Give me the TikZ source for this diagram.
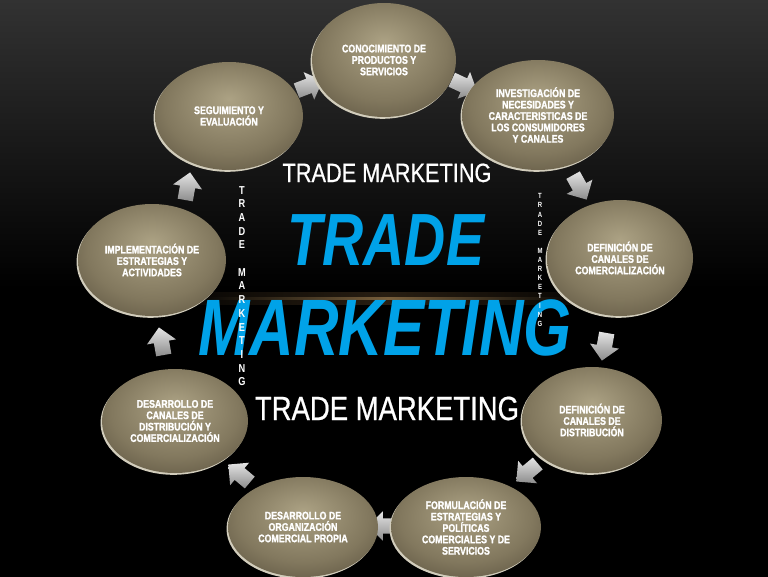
\documentclass[tikz,border=0pt]{standalone}
\usepackage{fontspec}
\setmainfont{Liberation Sans}
\newfontfamily\stagefont{Liberation Sans Bold}[FakeStretch=0.8, FakeBold=1.5]
\newfontfamily\condfont{Liberation Sans Bold}[FakeStretch=0.8]
\newfontfamily\widecond{Liberation Sans}[FakeStretch=0.82, FakeBold=0.6]
\newfontfamily\bigfont{Liberation Sans}[FakeStretch=0.77]
\usetikzlibrary{shapes.geometric,shapes.arrows,shadings}
\definecolor{ovin}{RGB}{172,162,132}
\definecolor{ovmid}{RGB}{130,120,94}
\definecolor{ovout}{RGB}{68,60,45}
\definecolor{tmblue}{RGB}{0,162,232}
\definecolor{rimc}{RGB}{210,205,188}
\definecolor{glowc}{RGB}{120,95,60}
\definecolor{glowd}{RGB}{40,30,18}
\pgfdeclareradialshading{ovalshade}{\pgfpoint{0bp}{8bp}}{color(0bp)=(ovin); color(22bp)=(ovmid); color(44bp)=(ovout); color(50bp)=(ovout)}
\tikzset{
  stage/.style={ellipse, inner sep=0pt, shade, shading=ovalshade,
    preaction={fill=rimc, transform canvas={xshift=-1.5pt, yshift=-1.8pt}},
    text=white, align=center,
    font=\stagefont\fontsize{11}{11.4}\selectfont},
  blockarrow/.style={single arrow, single arrow head extend=7pt,
    minimum height=28pt, inner xsep=0pt, inner ysep=7.5pt, draw=none,
    top color={rgb,255:red,228;green,228;blue,228},
    bottom color={rgb,255:red,140;green,140;blue,140}},
  vtext/.style={text=white, align=center, inner sep=0pt}
}
\begin{document}
\begin{tikzpicture}[x=1pt, y=-1pt]
\useasboundingbox (0,0) rectangle (768,576);
% background
\shade[top color={rgb,255:red,50;green,50;blue,50}, bottom color=black, middle color=black] (0,0) rectangle (768,576);
% glow line behind MARKETING
\shade[left color=black, right color=black, middle color=glowd] (140,292) rectangle (630,304);
\shade[left color=black, right color=black, middle color=glowc] (190,297) rectangle (585,299.5);

% arrows (drawn under the ovals)
\node[blockarrow, rotate=21]   (a1) at (306,87)  {};
\node[blockarrow, rotate=-25]  (a2) at (461,84)  {};
\node[blockarrow, rotate=-61]  (a3) at (578,184) {};
\node[blockarrow, rotate=-100] (a4) at (605,343) {};
\node[blockarrow, rotate=-140] (a5) at (530,470) {};
\node[blockarrow, rotate=180]  (a6) at (386,526) {};
\node[blockarrow, rotate=140]  (a7) at (242,476) {};
\node[blockarrow, rotate=100]  (a8) at (162,345) {};
\node[blockarrow, rotate=80]   (a9) at (187,190) {};

% ovals
\node[stage, minimum width=144pt, minimum height=114pt] (e1) at (384,60)
  {CONOCIMIENTO DE\\PRODUCTOS Y\\SERVICIOS};
\node[stage, minimum width=152pt, minimum height=110pt] (e2) at (538,115)
  {INVESTIGACIÓN DE\\NECESIDADES Y\\CARACTERISTICAS DE\\LOS CONSUMIDORES\\Y CANALES};
\node[stage, minimum width=148pt, minimum height=108pt] (e3) at (229,116)
  {SEGUIMIENTO Y\\EVALUACIÓN};
\node[stage, minimum width=146pt, minimum height=116pt] (e4) at (620,258)
  {DEFINICIÓN DE\\CANALES DE\\COMERCIALIZACIÓN};
\node[stage, minimum width=148pt, minimum height=112pt] (e5) at (152,260)
  {IMPLEMENTACIÓN DE\\ESTRATEGIAS Y\\ACTIVIDADES};
\node[stage, minimum width=146pt, minimum height=104pt] (e6) at (175,421)
  {DESARROLLO DE\\CANALES DE\\DISTRIBUCIÓN Y\\COMERCIALIZACIÓN};
\node[stage, minimum width=140pt, minimum height=106pt] (e7) at (592,420)
  {DEFINICIÓN DE\\CANALES DE\\DISTRIBUCIÓN};
\node[stage, minimum width=150pt, minimum height=100pt] (e8) at (303,527)
  {DESARROLLO DE\\ORGANIZACIÓN\\COMERCIAL PROPIA};
\node[stage, minimum width=150pt, minimum height=100pt] (e9) at (466,527)
  {FORMULACIÓN DE\\ESTRATEGIAS Y\\POLÍTICAS\\COMERCIALES Y DE\\SERVICIOS};

% central texts
\node[text=white, anchor=base, inner sep=0pt, font=\widecond\fontsize{26.5}{30}\selectfont] (t1) at (387,182) {TRADE MARKETING};
\node[text=tmblue, anchor=base, inner sep=0pt, font=\bigfont\bfseries\itshape\fontsize{74}{80}\selectfont] (t2) at (386,265) {TRADE};
\node[text=tmblue, anchor=base, inner sep=0pt, font=\bigfont\bfseries\itshape\fontsize{80}{86}\selectfont] (t3) at (385,355) {MARKETING};
\node[text=white, anchor=base, inner sep=0pt, font=\widecond\fontsize{33.5}{38}\selectfont] (t4) at (387,420) {TRADE MARKETING};

% vertical texts
\node[vtext, font=\condfont\fontsize{11.5}{13.7}\selectfont] (v1) at (242,286)
  {T\\R\\A\\D\\E\\[13.7pt]M\\A\\R\\K\\E\\T\\I\\N\\G};
\node[vtext, font=\condfont\fontsize{7.5}{9.1}\selectfont] (v2) at (540,260)
  {T\\R\\A\\D\\E\\[9.1pt]M\\A\\R\\K\\E\\T\\I\\N\\G};
\end{tikzpicture}
\end{document}
